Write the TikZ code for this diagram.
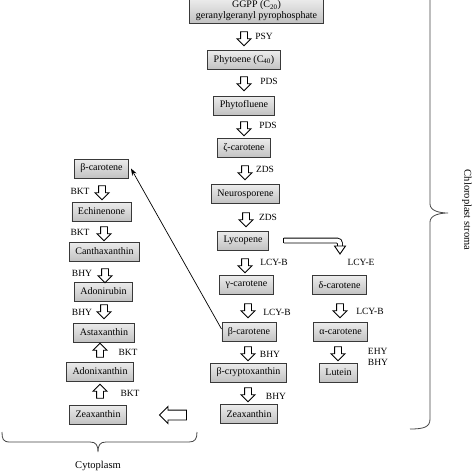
\documentclass[tikz,border=0pt]{standalone}
\usepackage{fontspec}
\setmainfont{Liberation Serif}
\usetikzlibrary{calc, shapes, shapes.arrows, arrows.meta, positioning}
\tikzset{
  chem/.style={draw=gray!45!black, line width=0.7pt, top color=gray!15, bottom color=gray!48,
    minimum height=19pt, inner xsep=6pt, inner ysep=1pt, font=\fontsize{10}{11}\selectfont},
  enz/.style={inner sep=0pt, font=\fontsize{9.5}{10.5}\selectfont},
  region/.style={inner sep=0pt, font=\fontsize{10.5}{12}\selectfont},
  blockarr/.style={single arrow, draw=black, fill=white, line width=0.9pt, inner sep=3pt,
    minimum height=14pt, single arrow head extend=3.5pt, single arrow head indent=0pt},
  darr/.style={blockarr, shape border rotate=270},
  uarr/.style={blockarr, shape border rotate=90},
  brc/.style={gray!55!black, line width=0.8pt}
}

\begin{document}
\begin{tikzpicture}[x=1pt,y=-1pt]
\useasboundingbox (0,0) rectangle (474,474);
\fill[white] (0,0) rectangle (474,474);
% main pathway
\node[chem, align=center, inner ysep=2pt] (ggpp) at (256.5,11) {GGPP (C\textsubscript{20})\\geranylgeranyl pyrophosphate};
\node[chem] (phy) at (244,60) {Phytoene (C\textsubscript{40})};
\node[chem] (phf) at (244,105.5) {Phytofluene};
\node[chem] (zca) at (244,148) {ζ-carotene};
\node[chem] (neu) at (245.5,194) {Neurosporene};
\node[chem] (lyc) at (243,240.5) {Lycopene};
\node[chem] (gca) at (246.5,285) {γ-carotene};
\node[chem] (dca) at (339.5,285) {δ-carotene};
\node[chem] (bca) at (249,332) {β-carotene};
\node[chem] (aca) at (340.5,332) {α-carotene};
\node[chem] (bcr) at (248.5,372.5) {β-cryptoxanthin};
\node[chem] (lut) at (338.5,372.5) {Lutein};
\node[chem] (zea) at (249,414) {Zeaxanthin};
% cytoplasm
\node[chem] (bcL) at (101.5,168.5) {β-carotene};
\node[chem] (ech) at (101.5,211.5) {Echinenone};
\node[chem] (can) at (104.5,251.5) {Canthaxanthin};
\node[chem] (adr) at (103.5,291.5) {Adonirubin};
\node[chem] (ast) at (104,332.5) {Astaxanthin};
\node[chem] (adx) at (100,371.5) {Adonixanthin};
\node[chem] (zeL) at (98,414.5) {Zeaxanthin};
% block arrows
\foreach \n/\x/\y in {1/244/37, 2/244/82, 3/244/127, 4/245/171, 5/246/218, 6/245/264,
  7/248/309, 8/340/309, 9/248/352, 10/338/352, 11/248/393,
  12/102/191, 13/104/232, 14/105/274, 15/104/310}
  \node[darr] (d\n) at (\x,\y) {};
\node[uarr] (u1) at (100,352) {};
\node[uarr] (u2) at (100,393) {};
\node[blockarr, shape border rotate=180, minimum height=27pt, inner sep=4.5pt] (l1) at (175.5,415) {};
% enzymes
\foreach \t/\x/\y in {PSY/264/36, PDS/269/81, PDS/268/125, ZDS/265/169, ZDS/268/217,
  LCY-B/274/262, LCY-E/361/262, LCY-B/277/312, LCY-B/370/311, BHY/270/354, BHY/276/396,
  BKT/80/191, BKT/80/232, BHY/82/273, BHY/82/312, BKT/128/352, BKT/130/393}
  \node[enz] (e-\x-\y) at (\x,\y) {\t};
\node[enz, align=left] (ehy) at (378,357) {EHY\\BHY};
% branch to delta-carotene
\coordinate (bs) at ($(lyc.east)+(15,0)$);
\coordinate (bh) at (340,246);
\draw[line width=0.9pt, double, double distance=4pt, rounded corners=3pt] (bs) -| (bh);
\draw[line width=0.9pt] ($(bs)+(0,-2.9)$) -- ($(bs)+(0,2.9)$);
\draw[line width=0.9pt, fill=white] ($(bh)+(-5.5,0)$) -- ($(bh)+(5.5,0)$) -- ($(bh)+(0,8)$) -- cycle;
\draw[-{Stealth[length=7pt,width=5pt]}, line width=0.7pt] ([yshift=3pt]bca.west) -- ([xshift=2pt]bcL.east);
% compartments
\draw[brc] (410,429) .. controls (424,429) and (430,427) .. (430,419) -- (430,222) .. controls (430,215) and (440,213) .. (448,213) .. controls (440,213) and (430,211) .. (430,204) -- (430,-5);
\node[region, rotate=-90] (stroma) at (467,210) {Chloroplast stroma};
\draw[brc] (2,432) .. controls (2,439) and (3,442) .. (10,442) -- (90,442) .. controls (96,442) and (98,445) .. (98,452) .. controls (98,445) and (100,442) .. (106,442) -- (189,442) .. controls (195,442) and (197,439) .. (197,432);
\node[region] (cyto) at (98,466) {Cytoplasm};
\end{tikzpicture}
\end{document}
